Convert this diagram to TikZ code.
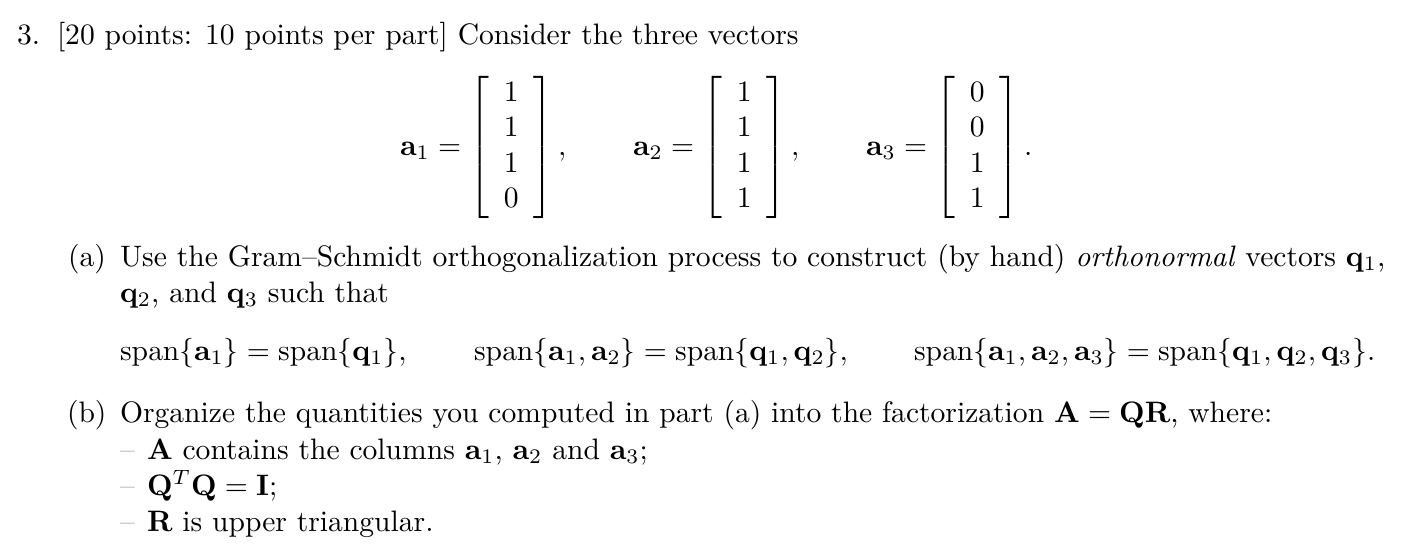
\documentclass[tikz,border=0pt]{standalone}
\usepackage{amsmath}
\usepackage{amssymb}
\usepackage{tikz}
\usepackage{xcolor}
\definecolor{dashgray}{RGB}{150,150,150}
\tikzset{txt/.style={anchor=base west, inner sep=0pt, outer sep=0pt},
  itemdash/.style={txt, text=dashgray}}

\begin{document}
\begin{tikzpicture}[x=0.338pt, y=-0.338pt]
\useasboundingbox (0,0) rectangle (1415,546);

% Heading
\node[txt] (num) at (17,44) {3.};
\node[txt] (head) at (57,44) {[20 points: 10 points per part] Consider the three vectors};

% The three vectors
\node[txt] (veca) at (400,155) {$\mathbf{a}_1 = \left[\begin{array}{c} 1\\ 1\\ 1\\ 0 \end{array}\right],$};
\node[txt] (vecb) at (633,155) {$\mathbf{a}_2 = \left[\begin{array}{c} 1\\ 1\\ 1\\ 1 \end{array}\right],$};
\node[txt] (vecc) at (866,155) {$\mathbf{a}_3 = \left[\begin{array}{c} 0\\ 0\\ 1\\ 1 \end{array}\right].$};

% Part (a)
\node[txt] (parta) at (68,266) {(a)};
\node[txt] (texta) at (120,266) {Use the Gram--Schmidt orthogonalization process to construct (by hand) \emph{orthonormal} vectors $\mathbf{q}_1$,};
\node[txt] (textb) at (120,302) {$\mathbf{q}_2$, and $\mathbf{q}_3$ such that};

% Spans
\node[txt] (spana) at (120,360) {$\operatorname{span}\{\mathbf{a}_1\} = \operatorname{span}\{\mathbf{q}_1\},$};
\node[txt] (spanb) at (474,360) {$\operatorname{span}\{\mathbf{a}_1, \mathbf{a}_2\} = \operatorname{span}\{\mathbf{q}_1, \mathbf{q}_2\},$};
\node[txt] (spanc) at (914,360) {$\operatorname{span}\{\mathbf{a}_1, \mathbf{a}_2, \mathbf{a}_3\} = \operatorname{span}\{\mathbf{q}_1, \mathbf{q}_2, \mathbf{q}_3\}.$};

% Part (b)
\node[txt] (partb) at (67,422) {(b)};
\node[txt] (textc) at (120,422) {Organize the quantities you computed in part (a) into the factorization $\mathbf{A} = \mathbf{QR}$, where:};

% List
\foreach \yy in {459,495,531}
  \node[itemdash] at (120,\yy) {--};
\node[txt] (itema) at (147,459) {$\mathbf{A}$ contains the columns $\mathbf{a}_1$, $\mathbf{a}_2$ and $\mathbf{a}_3$;};
\node[txt] (itemb) at (147,495) {$\mathbf{Q}^T\mathbf{Q} = \mathbf{I}$;};
\node[txt] (itemc) at (147,531) {$\mathbf{R}$ is upper triangular.};
\end{tikzpicture}
\end{document}
